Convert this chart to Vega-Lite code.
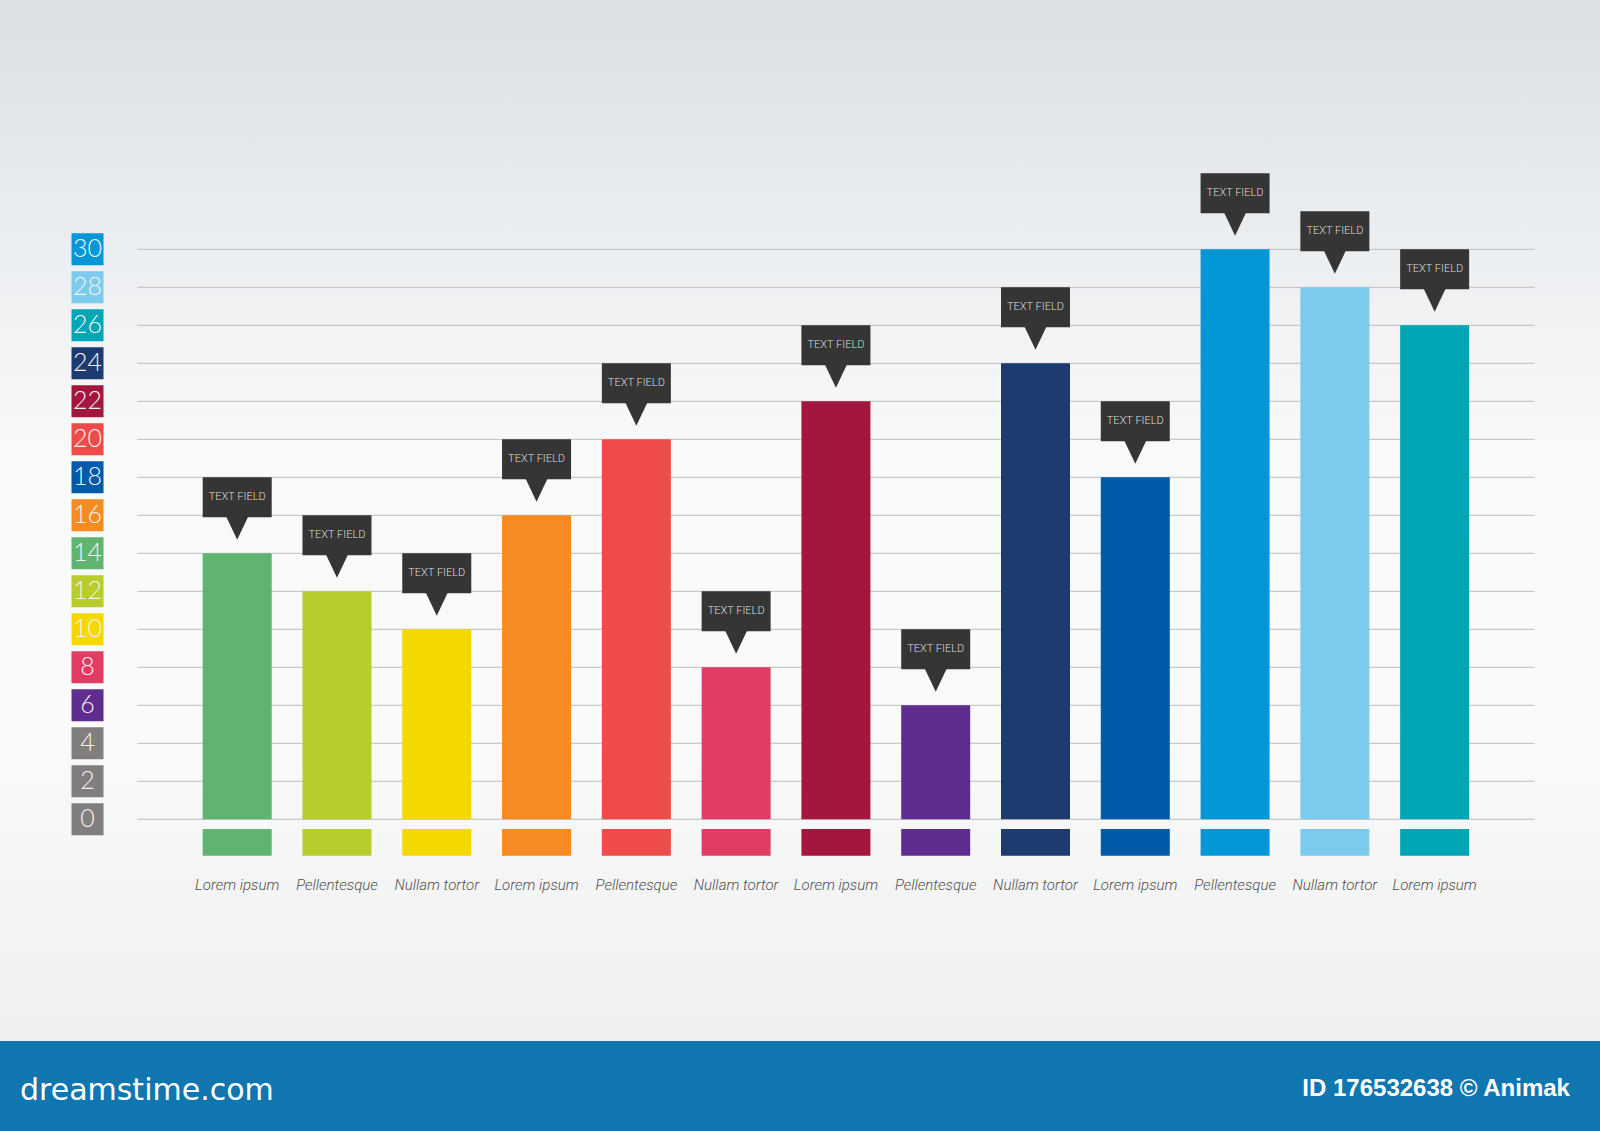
{
  "$schema": "https://vega.github.io/schema/vega-lite/v6.json",
  "width": 1600,
  "height": 1131,
  "autosize": {"type": "fit", "contains": "padding"},
  "padding": 0,
  "background": "#f4f5f6",
  "config": {"view": {"stroke": null}, "axis": {"disable": true}, "legend": {"disable": true}},
  "datasets": {
    "bars": [
      {"pos": 1, "label": "Lorem ipsum", "value": 14},
      {"pos": 2, "label": "Pellentesque", "value": 12},
      {"pos": 3, "label": "Nullam tortor", "value": 10},
      {"pos": 4, "label": "Lorem ipsum", "value": 16},
      {"pos": 5, "label": "Pellentesque", "value": 20},
      {"pos": 6, "label": "Nullam tortor", "value": 8},
      {"pos": 7, "label": "Lorem ipsum", "value": 22},
      {"pos": 8, "label": "Pellentesque", "value": 6},
      {"pos": 9, "label": "Nullam tortor", "value": 24},
      {"pos": 10, "label": "Lorem ipsum", "value": 18},
      {"pos": 11, "label": "Pellentesque", "value": 30},
      {"pos": 12, "label": "Nullam tortor", "value": 28},
      {"pos": 13, "label": "Lorem ipsum", "value": 26}
    ],
    "ticks": [
      {"value": 0}, {"value": 2}, {"value": 4}, {"value": 6}, {"value": 8}, {"value": 10},
      {"value": 12}, {"value": 14}, {"value": 16}, {"value": 18}, {"value": 20}, {"value": 22},
      {"value": 24}, {"value": 26}, {"value": 28}, {"value": 30}
    ],
    "one": [{}]
  },
  "layer": [
    {
      "data": {"name": "one"},
      "mark": {"type": "rect", "color": {"gradient": "linear", "x1": 0, "y1": 0, "x2": 0, "y2": 1,
        "stops": [
          {"offset": 0, "color": "#dadfe4"},
          {"offset": 0.2, "color": "#eaedf0"},
          {"offset": 0.4, "color": "#f8f9f9"},
          {"offset": 0.65, "color": "#fafafa"},
          {"offset": 0.82, "color": "#f2f3f3"},
          {"offset": 1, "color": "#eceded"}
        ]}},
      "encoding": {
        "x": {"datum": -1.377, "type": "quantitative", "scale": {"domain": [-1.377, 14.657], "nice": false, "zero": false, "padding": 0}, "axis": null},
        "x2": {"datum": 14.657},
        "y": {"datum": 43.121, "type": "quantitative", "scale": {"domain": [-16.405, 43.121], "nice": false, "zero": false, "padding": 0}, "axis": null},
        "y2": {"datum": -16.405}
      }
    },
    {
      "data": {"name": "one"},
      "mark": {"type": "rect", "color": "#1076b0"},
      "encoding": {
        "x": {"datum": -1.377, "type": "quantitative"},
        "x2": {"datum": 14.657},
        "y": {"datum": -11.668, "type": "quantitative"},
        "y2": {"datum": -16.405}
      }
    },
    {
      "data": {"name": "one"},
      "mark": {"type": "text", "text": "dreamstime.com", "font": "DejaVu Sans", "fontSize": 30, "color": "#ffffff", "align": "left", "baseline": "middle"},
      "encoding": {
        "x": {"datum": -1.177, "type": "quantitative"},
        "y": {"datum": -14.3, "type": "quantitative"}
      }
    },
    {
      "data": {"name": "one"},
      "mark": {"type": "text", "text": "ID 176532638 © Animak", "font": "Liberation Sans", "fontWeight": "bold", "fontSize": 24, "color": "#ffffff", "align": "right", "baseline": "middle"},
      "encoding": {
        "x": {"datum": 14.356, "type": "quantitative"},
        "y": {"datum": -14.2, "type": "quantitative"}
      }
    },
    {
      "data": {"name": "ticks"},
      "mark": {"type": "rule", "color": "#bdbdbd", "strokeWidth": 1},
      "encoding": {
        "x": {"datum": 0, "type": "quantitative"},
        "x2": {"datum": 14},
        "y": {"field": "value", "type": "quantitative"}
      }
    },
    {
      "data": {"name": "ticks"},
      "mark": {"type": "square", "size": 1024, "filled": true, "opacity": 1},
      "encoding": {
        "x": {"datum": -0.5, "type": "quantitative"},
        "y": {"field": "value", "type": "quantitative"},
        "color": {"field": "value", "type": "ordinal", "legend": null,
          "scale": {"domain": [0, 2, 4, 6, 8, 10, 12, 14, 16, 18, 20, 22, 24, 26, 28, 30],
            "range": ["#827e7e", "#827e7e", "#827e7e", "#5f2d8f", "#e13c63", "#f5d800", "#b8cc2c", "#5fb472", "#f68b21", "#0059a9", "#ef4b4a", "#a3173f", "#1e3b70", "#00a6b5", "#7ccaec", "#0497d7"]}}
      }
    },
    {
      "data": {"name": "ticks"},
      "mark": {"type": "text", "font": "Lato", "fontWeight": 300, "fontSize": 25, "color": "#f2f2f2", "align": "center", "baseline": "middle"},
      "encoding": {
        "x": {"datum": -0.5, "type": "quantitative"},
        "y": {"field": "value", "type": "quantitative"},
        "text": {"field": "value", "type": "quantitative"}
      }
    },
    {
      "data": {"name": "bars"},
      "mark": {"type": "bar", "width": 69, "orient": "vertical"},
      "encoding": {
        "x": {"field": "pos", "type": "quantitative"},
        "y": {"field": "value", "type": "quantitative"},
        "y2": {"datum": 0},
        "color": {"field": "value", "type": "ordinal", "legend": null}
      }
    },
    {
      "data": {"name": "bars"},
      "mark": {"type": "bar", "width": 69, "orient": "vertical"},
      "encoding": {
        "x": {"field": "pos", "type": "quantitative"},
        "y": {"datum": -0.51, "type": "quantitative"},
        "y2": {"datum": -1.916},
        "color": {"field": "value", "type": "ordinal", "legend": null}
      }
    },
    {
      "data": {"name": "bars"},
      "mark": {"type": "text", "font": "Roboto", "fontStyle": "italic", "fontWeight": 300, "fontSize": 15, "color": "#505050", "align": "center", "baseline": "middle"},
      "encoding": {
        "x": {"field": "pos", "type": "quantitative"},
        "y": {"datum": -3.46, "type": "quantitative"},
        "text": {"field": "label", "type": "nominal"}
      }
    },
    {
      "data": {"name": "bars"},
      "mark": {"type": "bar", "width": 69, "orient": "vertical", "color": "#353535", "yOffset": -76, "y2Offset": -36},
      "encoding": {
        "x": {"field": "pos", "type": "quantitative"},
        "y": {"field": "value", "type": "quantitative"},
        "y2": {"field": "value"}
      }
    },
    {
      "data": {"name": "bars"},
      "mark": {"type": "point", "shape": "M-0.95,-1L0.95,-1L0,1Z", "size": 529, "filled": true, "opacity": 1, "color": "#353535", "yOffset": -25},
      "encoding": {
        "x": {"field": "pos", "type": "quantitative"},
        "y": {"field": "value", "type": "quantitative"}
      }
    },
    {
      "data": {"name": "bars"},
      "mark": {"type": "text", "text": "TEXT FIELD", "font": "Roboto", "fontWeight": 300, "fontSize": 11, "color": "#dcdcdc", "align": "center", "baseline": "middle", "yOffset": -56},
      "encoding": {
        "x": {"field": "pos", "type": "quantitative"},
        "y": {"field": "value", "type": "quantitative"}
      }
    }
  ]
}
